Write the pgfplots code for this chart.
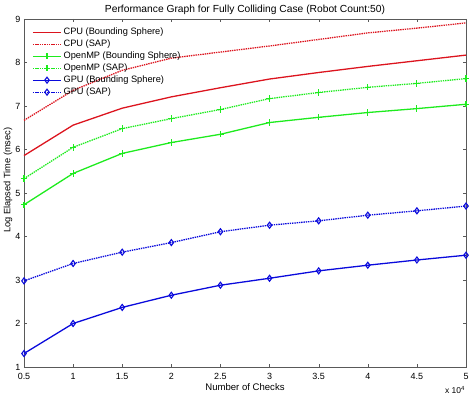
\documentclass[border=0pt]{standalone}
\usepackage{pgfplots}
\pgfplotsset{compat=1.18}
\usepackage{fontspec}
\setmainfont{Liberation Sans}
\definecolor{mred}{RGB}{220,20,30}
\definecolor{mgreen}{RGB}{30,235,30}
\definecolor{mblue}{RGB}{10,10,220}
\begin{document}
\begin{tikzpicture}
\begin{axis}[
  scale only axis,
  width=442bp, height=348bp,
  xmin=0.5, xmax=5, ymin=1, ymax=9,
  xtick={0.5,1,...,5}, ytick={1,2,...,9},
  xticklabels={0.5,1,1.5,2,2.5,3,3.5,4,4.5,5},
  tick align=inside, tick pos=both,
  major tick length=3pt,
  tick style={gray!70!black, line width=0.3pt},
  axis line style={gray!70!black, line width=0.6pt},
  /pgf/number format/assume math mode=true,
  tick label style={font=\fontsize{9}{10}\selectfont},
  xticklabel style={anchor=base, inner sep=0pt, yshift=-12bp},
  yticklabel style={anchor=east, inner sep=0pt, xshift=-3.5bp},
  every axis title/.style={font=\fontsize{10.3}{11}\selectfont, at={(0.5,1)}, anchor=base, inner sep=0pt, yshift=6bp},
  title={Performance Graph for Fully Colliding Case (Robot Count:50)},
  xlabel={Number of Checks},
  ylabel={Log Elapsed Time (msec)},
  xlabel style={font=\fontsize{9.6}{10}\selectfont, at={(0.5,0)}, anchor=base, inner sep=0pt, yshift=-23bp},
  ylabel style={font=\fontsize{9.3}{10}\selectfont, at={(-0.0362,0.537)}, anchor=center, inner sep=0pt},
  legend style={draw=none, fill=none, at={(0.0181,0.9799)}, anchor=north west,
    font=\fontsize{9.3}{10}\selectfont, row sep=0pt, inner sep=0pt,
    nodes={text height=6.5bp, text depth=2bp, inner sep=1.75bp}},
  legend cell align=left,
  legend image code/.code={\draw[mark repeat=2,mark phase=2,#1] plot coordinates {(0cm,0cm) (0.5cm,0cm) (1cm,0cm)};},
  clip=false,
  every axis plot/.append style={line width=1.3pt},
]
\coordinate (ll) at (rel axis cs:0,0);
\coordinate (ur) at (rel axis cs:1,1);
\addplot[mred, no marks] coordinates {
(0.5,5.86)(1,6.56)(1.5,6.95)(2,7.21)(2.5,7.42)(3,7.62)(3.5,7.77)(4,7.91)(4.5,8.04)(5,8.17)};
\addlegendentry{CPU (Bounding Sphere)}
\addplot[mred, dash pattern=on 1.4pt off 0.9pt, no marks] coordinates {
(0.5,6.67)(1,7.36)(1.5,7.82)(2,8.10)(2.5,8.24)(3,8.38)(3.5,8.53)(4,8.68)(4.5,8.79)(5,8.91)};
\addlegendentry{CPU (SAP)}
\addplot[mgreen, mark=+, mark size=3.2pt, mark options={solid, line width=1.1pt}] coordinates {
(0.5,4.73)(1,5.45)(1.5,5.91)(2,6.16)(2.5,6.35)(3,6.62)(3.5,6.74)(4,6.85)(4.5,6.94)(5,7.04)};
\addlegendentry{OpenMP (Bounding Sphere)}
\addplot[mgreen, dash pattern=on 1.4pt off 0.9pt, mark=+, mark size=3.2pt, mark options={solid, line width=1.1pt}] coordinates {
(0.5,5.33)(1,6.05)(1.5,6.48)(2,6.71)(2.5,6.92)(3,7.17)(3.5,7.31)(4,7.43)(4.5,7.52)(5,7.63)};
\addlegendentry{OpenMP (SAP)}
\addplot[mblue, mark=diamond, mark size=3pt, mark options={solid, line width=1.1pt}] coordinates {
(0.5,1.31)(1,2.00)(1.5,2.37)(2,2.65)(2.5,2.88)(3,3.04)(3.5,3.21)(4,3.34)(4.5,3.46)(5,3.57)};
\addlegendentry{GPU (Bounding Sphere)}
\addplot[mblue, dash pattern=on 1.4pt off 0.9pt, mark=diamond, mark size=3pt, mark options={solid, line width=1.1pt}] coordinates {
(0.5,2.98)(1,3.38)(1.5,3.64)(2,3.86)(2.5,4.11)(3,4.26)(3.5,4.36)(4,4.49)(4.5,4.59)(5,4.70)};
\addlegendentry{GPU (SAP)}
\node[anchor=base east, font=\fontsize{8.5}{9}\selectfont, inner sep=0pt] at ([xshift=-1bp,yshift=-26.5bp]rel axis cs:1,0) {x 10$^{\mathrm{4}}$};
\end{axis}
\pgfresetboundingbox
\path ([shift={(-24bp,-28bp)}]ll) rectangle ([shift={(8bp,19bp)}]ur);
\end{tikzpicture}
\end{document}
